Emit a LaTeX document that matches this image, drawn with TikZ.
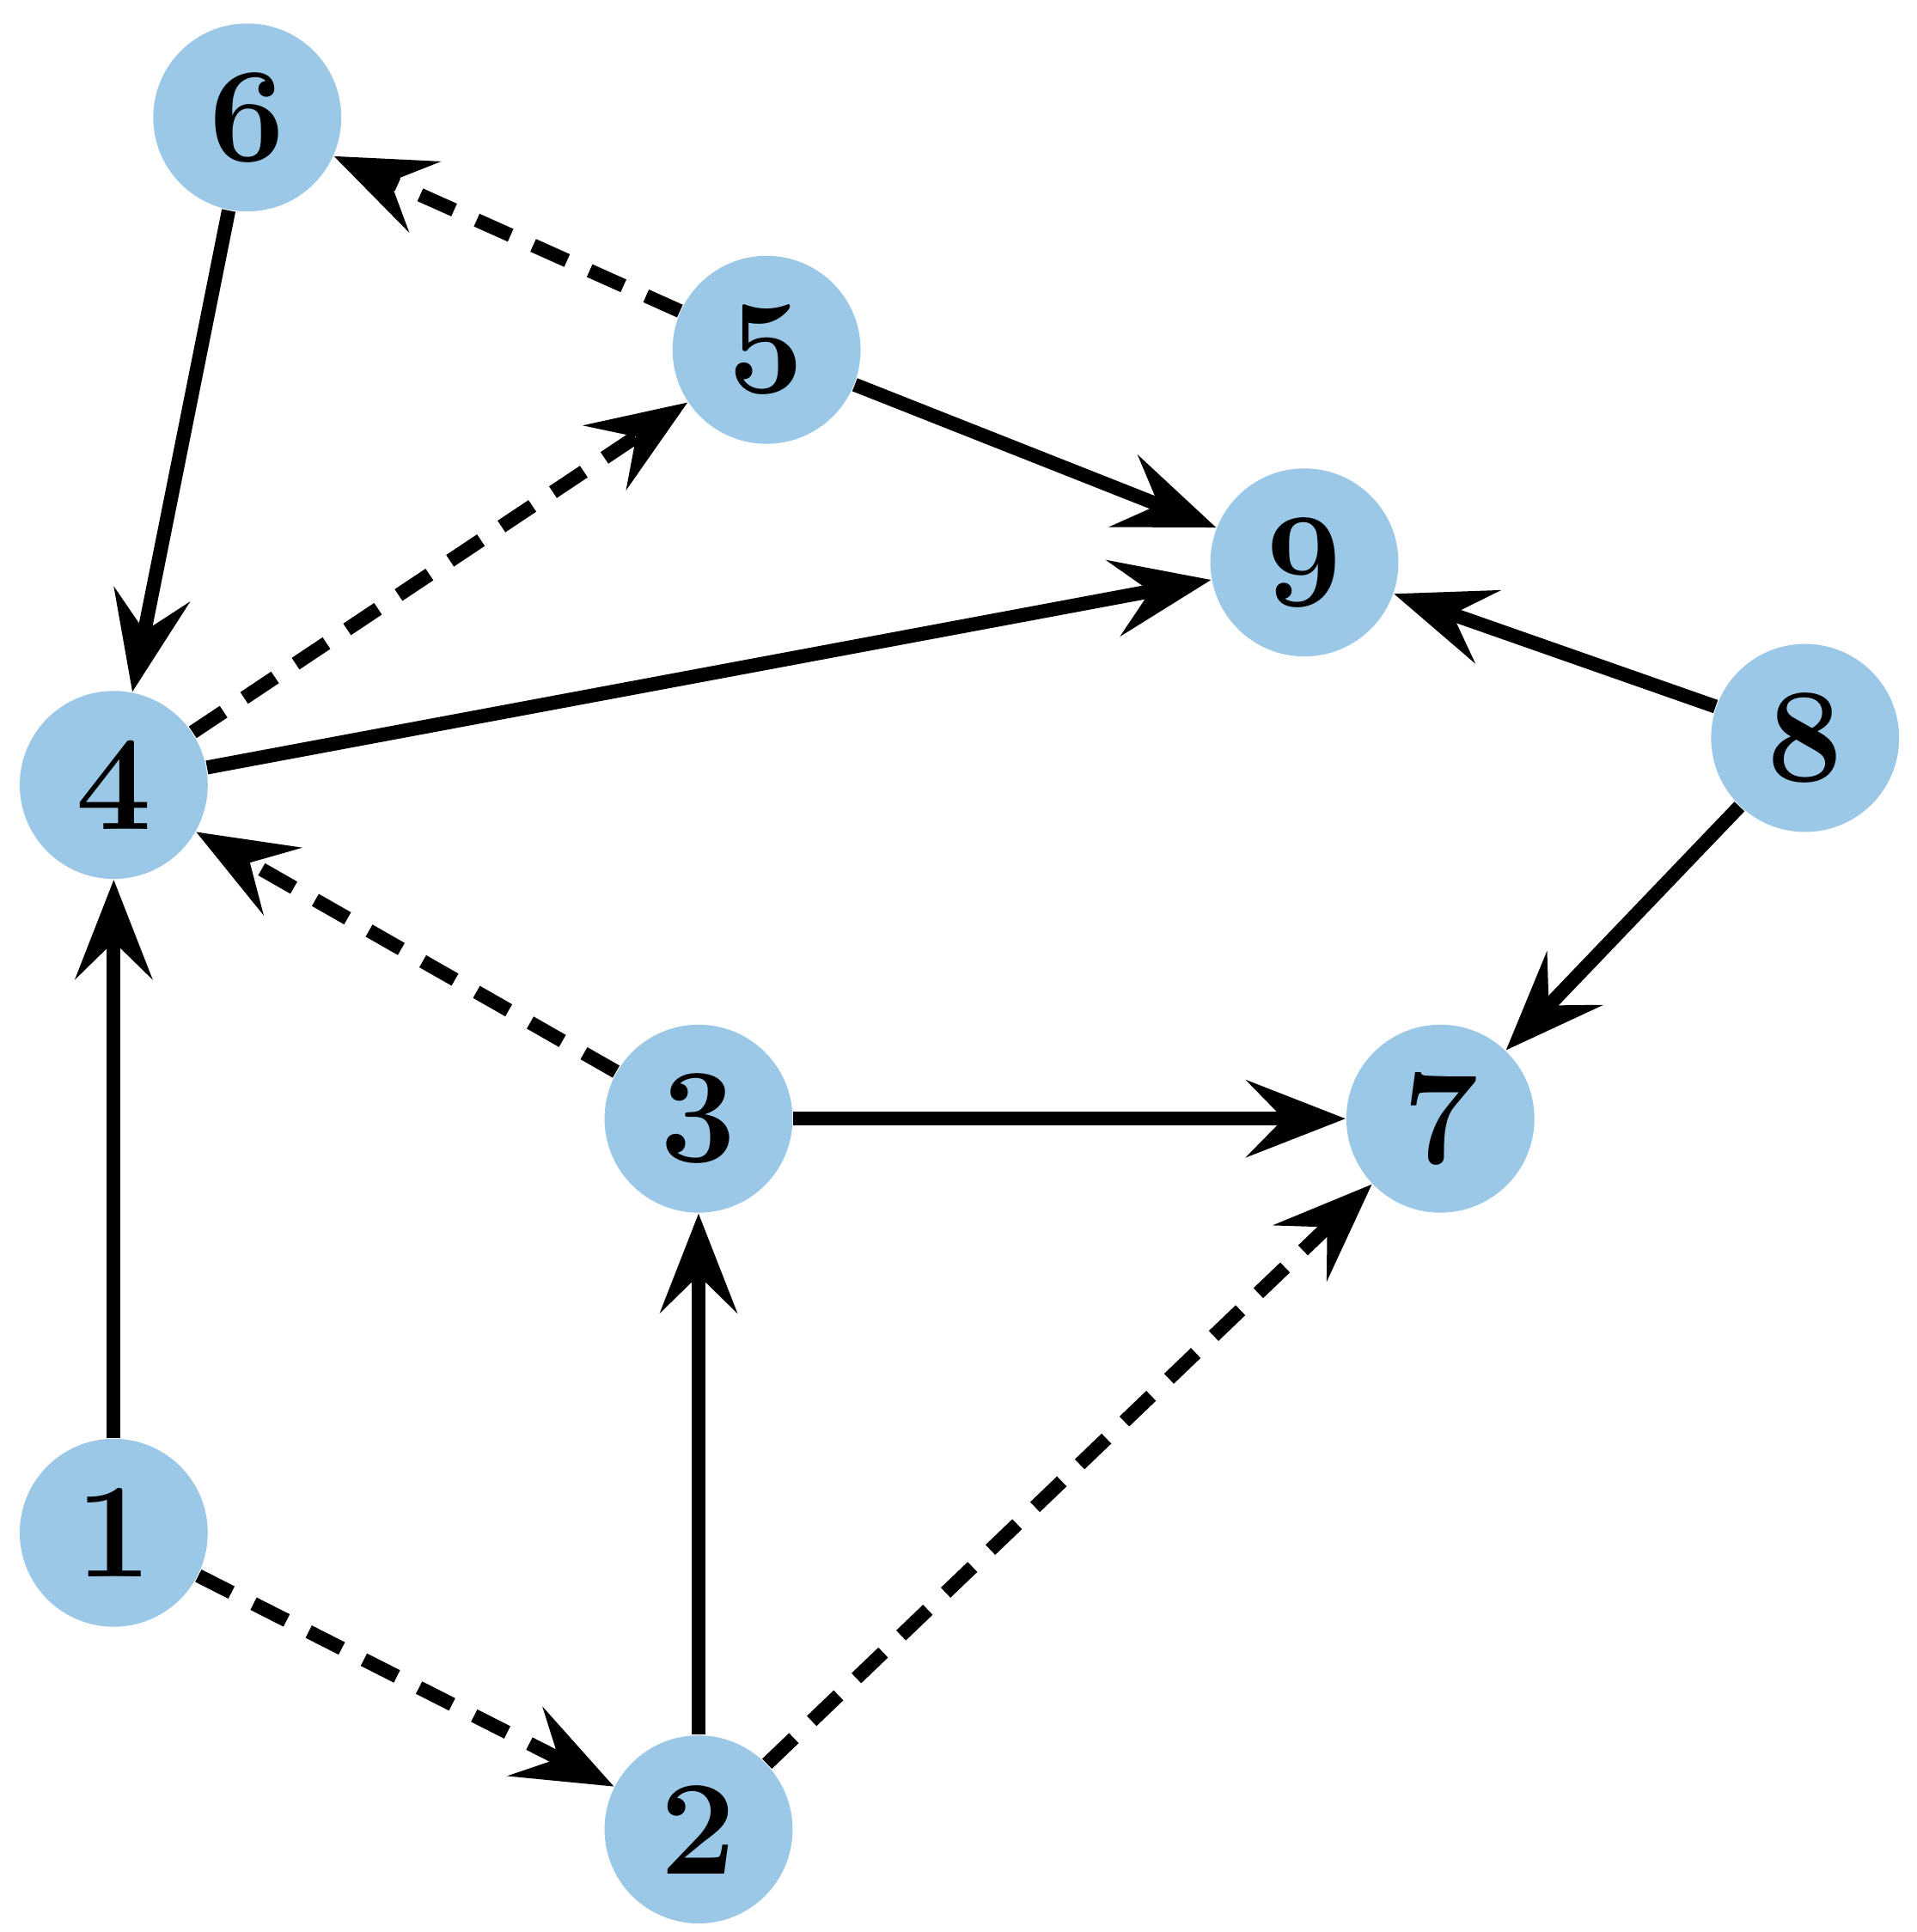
\documentclass[tikz,border=0pt]{standalone}
\usetikzlibrary{arrows.meta}
\definecolor{nodeblue}{RGB}{155,200,230}
\begin{document}
\begin{tikzpicture}[x=0.01cm,y=-0.01cm,
  vert/.style={circle,fill=nodeblue,minimum size=1.52cm,inner sep=0pt,font=\fontsize{31}{36}\selectfont\bfseries},
  edge/.style={line width=3.2pt,-{Stealth[length=0.8cm,width=0.62cm,inset=0.3cm]}},
  dedge/.style={edge,dash pattern=on 0.3cm off 0.2cm}]
\useasboundingbox (0,0) rectangle (1550,1563);
\node[vert] (6) at (200,95) {6};
\node[vert] (5) at (620,283) {5};
\node[vert] (9) at (1055,455) {9};
\node[vert] (8) at (1460,597) {8};
\node[vert] (4) at (92,635) {4};
\node[vert] (3) at (565,905) {3};
\node[vert] (7) at (1165,905) {7};
\node[vert] (1) at (92,1240) {1};
\node[vert] (2) at (565,1480) {2};
\draw[edge] (6) -- (4);
\draw[dedge] (5) -- (6);
\draw[dedge] (4) -- (5);
\draw[edge] (5) -- (9);
\draw[edge] (4) -- (9);
\draw[edge] (8) -- (9);
\draw[edge] (8) -- (7);
\draw[dedge] (3) -- (4);
\draw[edge] (3) -- (7);
\draw[edge] (2) -- (3);
\draw[dedge] (2) -- (7);
\draw[edge] (1) -- (4);
\draw[dedge] (1) -- (2);
\end{tikzpicture}
\end{document}
